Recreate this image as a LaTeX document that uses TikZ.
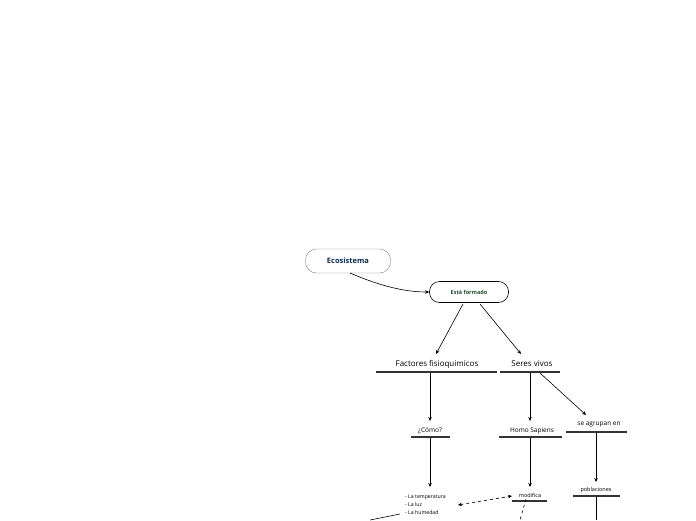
\documentclass[tikz,border=0pt]{standalone}
\usepackage{fontspec}
\setmainfont{Open Sans}
\usetikzlibrary{arrows.meta}
\definecolor{navy}{HTML}{0B2A5B}
\definecolor{dgreen}{HTML}{1E4D2B}
\begin{document}
\begin{tikzpicture}[x=1pt,y=-1pt,
  arr/.style={-{Stealth[length=4pt,width=3.5pt]},line width=0.6pt},
  ul/.style={line width=1.1pt,draw=black!80},
  lbl/.style={inner sep=0pt,font=\fontsize{8}{9}\selectfont},
  sml/.style={inner sep=0pt,font=\fontsize{5.5}{6}\selectfont}]
\useasboundingbox (0,0) rectangle (696,520);
\clip (0,0) rectangle (696,520);
\node[draw=black!50,rounded corners=11pt,minimum width=85pt,minimum height=24pt,font=\bfseries\fontsize{7.5}{9}\selectfont,text=navy] (eco) at (348,261) {Ecosistema};
\node[draw=black,line width=0.6pt,rounded corners=10pt,minimum width=79pt,minimum height=21pt,font=\bfseries\fontsize{5.5}{7}\selectfont,text=dgreen] (est) at (469,292) {Está formado};
\draw[arr] (350,273) .. controls (380,286) and (405,292) .. (est.west);
\node[lbl] (fac) at (437,364) {Factores fisioquimicos};
\draw[ul] (376,372) -- (497,372);
\node[lbl] (ser) at (532,364) {Seres vivos};
\draw[ul] (500,372) -- (560,372);
\coordinate (e1) at (463,304); \coordinate (e2) at (480,304);
\draw[arr] (e1) -- (436,354);
\draw[arr] (e2) -- (521,354);
\node[sml,font=\fontsize{6.5}{7}\selectfont] (como) at (430,431) {¿Cómo?};
\draw[ul] (411,437) -- (450,437);
\node[sml,font=\fontsize{6.5}{7}\selectfont] (homo) at (532,431) {Homo Sapiens};
\draw[ul] (499,437) -- (562,437);
\node[sml,font=\fontsize{6.5}{7}\selectfont] (agr) at (599,425) {se agrupan en};
\draw[ul] (566,432) -- (627,432);
\draw[arr] (430,373) -- (430,421);
\draw[arr] (530,373) -- (530,421);
\draw[arr] (540,373) -- (586,415);
\draw[arr] (430,438) -- (430,487);
\draw[arr] (530,438) -- (530,487);
\draw[arr] (596,433) -- (596,482);
\node[sml,anchor=west,align=left,font=\fontsize{5.2}{8}\selectfont] (list) at (405,505) {- La temperatura\\- La luz\\- La humedad};
\node[sml] (mod) at (530,495) {modifica};
\draw[ul] (512,501) -- (547,501);
\node[sml] (pob) at (596,490) {poblaciones};
\draw[ul] (573,496) -- (620,496);
\draw[line width=0.6pt] (596,497) -- (596,520);
\draw[dashed,{Stealth[length=4pt,width=3.5pt]}-{Stealth[length=4pt,width=3.5pt]},line width=0.6pt] (458,505) -- (512,496);
\draw[dashed,line width=0.6pt] (526,499) -- (520,520);
\draw[line width=0.6pt] (400,514) -- (370,520);
\end{tikzpicture}
\end{document}
